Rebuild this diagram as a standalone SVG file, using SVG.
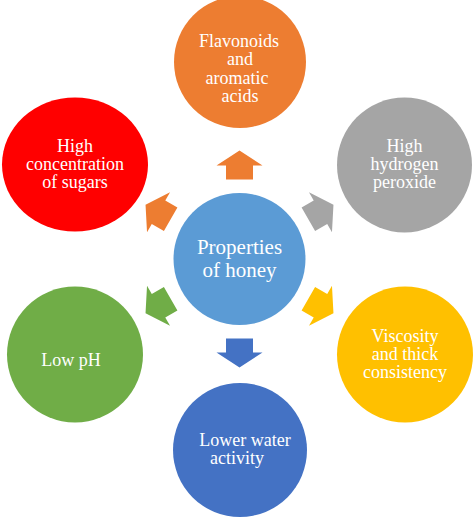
<svg xmlns="http://www.w3.org/2000/svg" width="474" height="519" viewBox="0 0 474 519">
<defs>
<style>
text{font-family:"Liberation Serif","Times New Roman",serif;fill:#ffffff;text-anchor:middle;font-size:18px}
.big{font-size:21px}
</style>
<path id="arr" d="M0,-14.5 L23,0.5 L13.5,0.5 L13.5,14.5 L-13.5,14.5 L-13.5,0.5 L-23,0.5 Z"/>
</defs>
<rect width="474" height="519" fill="#ffffff"/>
<g id="connectors">
<use href="#arr" fill="#ED7D31" transform="translate(239.5,259) rotate(0) translate(0,-94)"/>
<use href="#arr" fill="#ED7D31" transform="translate(239.5,259) rotate(-60) translate(0,-94)"/>
<use href="#arr" fill="#A5A5A5" transform="translate(239.5,259) rotate(60) translate(0,-94)"/>
<use href="#arr" fill="#FFC000" transform="translate(239.5,259) rotate(120) translate(0,-94)"/>
<use href="#arr" fill="#4472C4" transform="translate(239.5,259) rotate(180) translate(0,-94)"/>
<use href="#arr" fill="#70AD47" transform="translate(239.5,259) rotate(-120) translate(0,-94)"/>
</g>
<g id="center">
<circle cx="239.5" cy="259" r="66" fill="#5B9BD5"/>
<text class="big" x="239.5" y="254">Properties</text>
<text class="big" x="239.5" y="277">of honey</text>
</g>
<g id="flavonoids">
<circle cx="240" cy="62" r="66" fill="#ED7D31"/>
<text x="239" y="47">Flavonoids</text>
<text x="240" y="65">and</text>
<text x="237" y="83.5">aromatic</text>
<text x="240" y="102">acids</text>
</g>
<g id="sugars">
<ellipse cx="75" cy="164.5" rx="73" ry="67" fill="#FF0000"/>
<text x="75" y="152">High</text>
<text x="75" y="170">concentration</text>
<text x="75" y="188">of sugars</text>
</g>
<g id="peroxide">
<circle cx="404.5" cy="165" r="67.5" fill="#A5A5A5"/>
<text x="404.5" y="152">High</text>
<text x="404.5" y="170">hydrogen</text>
<text x="404.5" y="188">peroxide</text>
</g>
<g id="viscosity">
<circle cx="405" cy="354.5" r="68" fill="#FFC000"/>
<text x="405" y="342">Viscosity</text>
<text x="405" y="360">and thick</text>
<text x="405" y="378">consistency</text>
</g>
<g id="water">
<circle cx="240" cy="450" r="67" fill="#4472C4"/>
<text x="245" y="446">Lower water</text>
<text x="237" y="463.5">activity</text>
</g>
<g id="ph">
<circle cx="75" cy="354.5" r="68" fill="#70AD47"/>
<text x="71" y="366">Low pH</text>
</g>
</svg>
